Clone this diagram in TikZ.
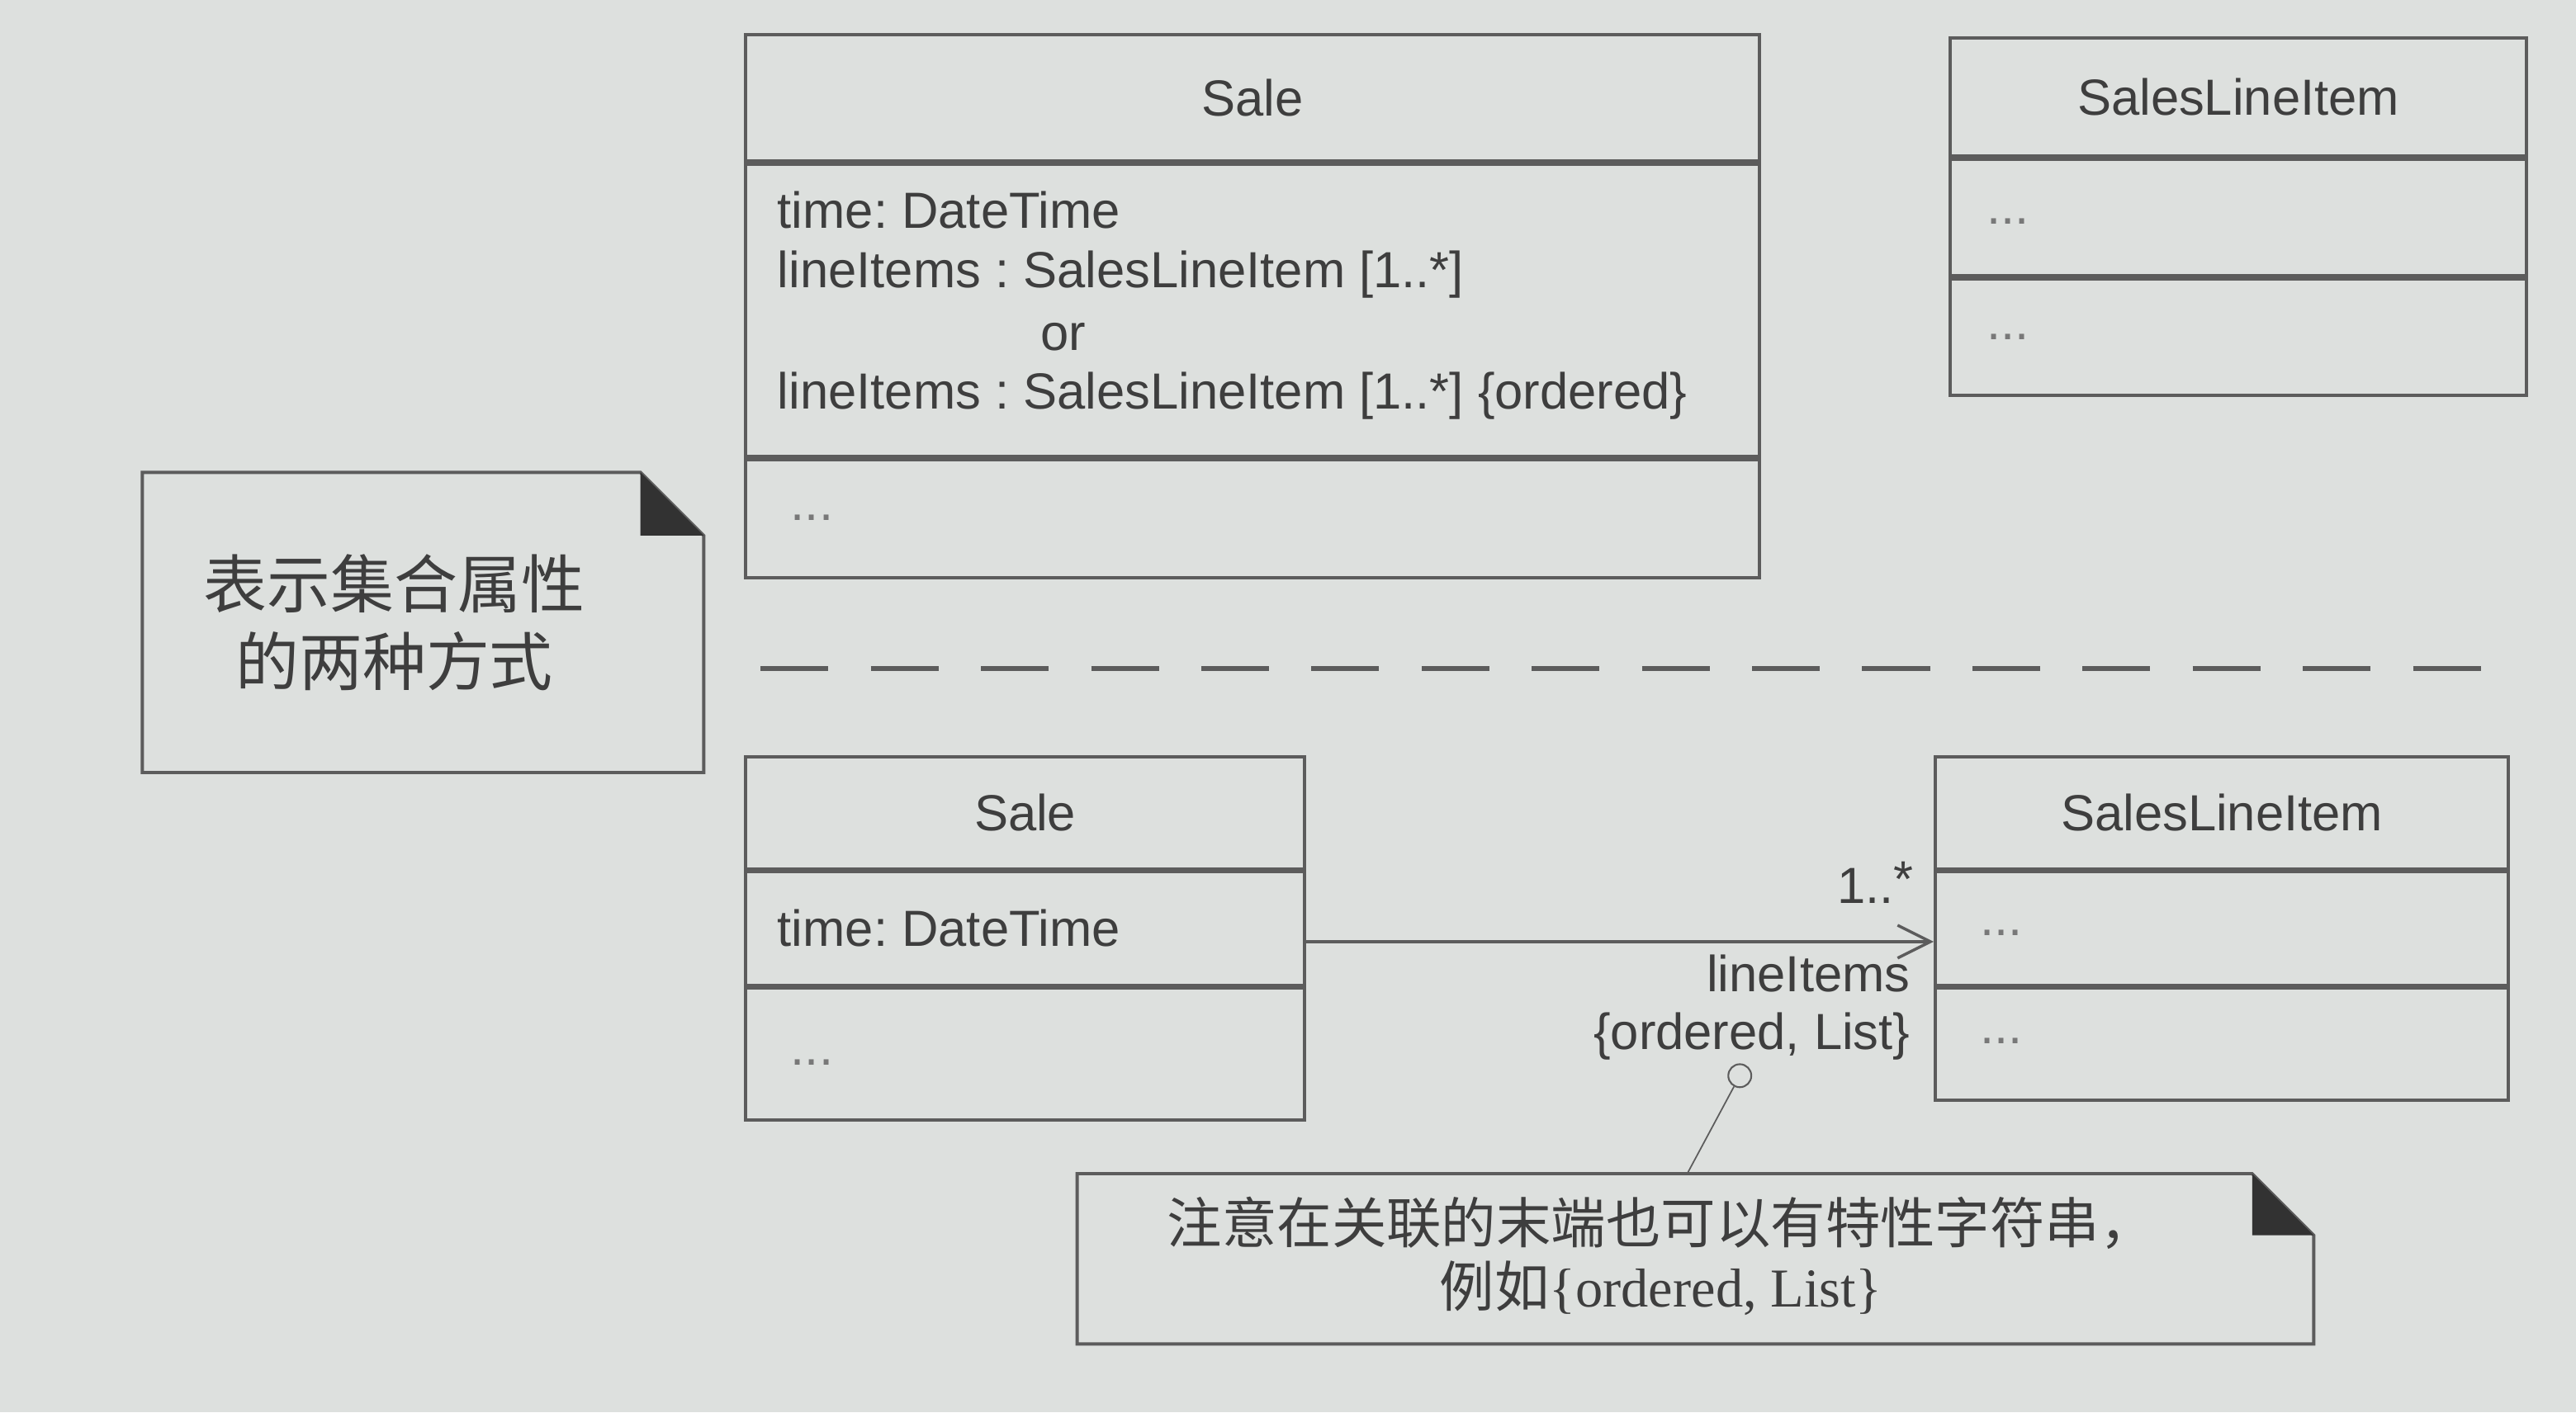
\documentclass[tikz,border=0pt]{standalone}
\usepackage{fontspec}
\setmainfont{Liberation Sans}
\newfontfamily\cjk{Noto Sans CJK SC}
\newfontfamily\serifen{Liberation Serif}
\usetikzlibrary{positioning,arrows.meta}
\definecolor{paper}{RGB}{221,224,222}
\definecolor{ink}{RGB}{62,62,62}
\definecolor{rule}{RGB}{92,92,92}
\frenchspacing

\begin{document}
\begin{tikzpicture}[
    every node/.style={text=ink, font=\fontsize{17.6}{20}\selectfont},
    part/.style={draw=rule, line width=1.1pt, inner sep=0pt},
    attr/.style={anchor=west, inner sep=0pt},
    dots/.style={anchor=west, inner sep=0pt, text=ink!70},
    notebox/.style={inner sep=0pt},
    notetext/.style={inner sep=0pt, align=center},
    assoc/.style={draw=rule, line width=1pt, -{Straight Barb[length=4mm,width=4mm]}},
    pinline/.style={draw=rule, line width=0.5pt}
]
    \fill[paper] (0,0) rectangle (31.36,-17.20);
    \useasboundingbox (0,0) rectangle (31.36,-17.20);

    % upper pair: attribute form
    \node[part, anchor=north west, minimum width=12.34cm, minimum height=1.54cm] (saleA) at (9.06,-0.40) {Sale};
    \node[part, below=0pt of saleA, minimum width=12.34cm, minimum height=3.56cm] (saleAattr) {};
    \node[part, below=0pt of saleAattr, minimum width=12.34cm, minimum height=1.44cm] (saleAops) {};
    \node[attr] (timeA) at (9.46,-2.56) {time: DateTime};
    \node[attr] (itemsA) at (9.46,-3.34) {lineItems : SalesLineItem [1..*]};
    \node (orA) at (12.94,-4.10) {or};
    \node[attr] (itemsB) at (9.46,-4.82) {lineItems : SalesLineItem [1..*] \{ordered\}};
    \node[dots] (dotsA) at (9.62,-6.30) {...};

    \node[part, anchor=north west, minimum width=7.02cm, minimum height=1.44cm] (sliA) at (23.72,-0.44) {SalesLineItem};
    \node[part, below=0pt of sliA, minimum width=7.02cm, minimum height=1.42cm] (sliAattr) {};
    \node[part, below=0pt of sliAattr, minimum width=7.02cm, minimum height=1.42cm] (sliAops) {};
    \node[dots] (dotsB) at (24.18,-2.70) {...};
    \node[dots] (dotsC) at (24.18,-4.10) {...};

    % note on the left
    \node[notebox, minimum width=6.82cm, minimum height=3.64cm] (noteL) at (5.15,-7.58) {};
    \node[notetext, font=\cjk\fontsize{22}{27}\selectfont] (noteLtext) at (4.80,-7.58) {表示集合属性\\的两种方式};
    \draw[rule, line width=1.1pt] (noteL.north west) -- ([xshift=-7.7mm]noteL.north east)
        -- ([yshift=-7.7mm]noteL.north east) -- (noteL.south east) -- (noteL.south west) -- cycle;
    \fill[ink!80!black] ([xshift=-7.7mm]noteL.north east) -- ([xshift=-7.7mm,yshift=-7.7mm]noteL.north east)
        -- ([yshift=-7.7mm]noteL.north east) -- cycle;

    % separator
    \coordinate (sepL) at (9.26,-8.14);
    \coordinate (sepR) at (30.20,-8.14);
    \draw[rule, line width=1.8pt, dash pattern=on 0.825cm off 0.516cm] (sepL) -- (sepR);

    % lower pair: association form
    \node[part, anchor=north west, minimum width=6.80cm, minimum height=1.36cm] (saleB) at (9.06,-9.20) {Sale};
    \node[part, below=0pt of saleB, minimum width=6.80cm, minimum height=1.38cm] (saleBattr) {};
    \node[part, below=0pt of saleBattr, minimum width=6.80cm, minimum height=1.60cm] (saleBops) {};
    \node[attr] (timeB) at (9.46,-11.30) {time: DateTime};
    \node[dots] (dotsD) at (9.62,-12.94) {...};

    \node[part, anchor=north west, minimum width=6.98cm, minimum height=1.36cm] (sliB) at (23.54,-9.20) {SalesLineItem};
    \node[part, below=0pt of sliB, minimum width=6.98cm, minimum height=1.38cm] (sliBattr) {};
    \node[part, below=0pt of sliBattr, minimum width=6.98cm, minimum height=1.36cm] (sliBops) {};
    \node[dots] (dotsE) at (24.10,-11.36) {...};
    \node[dots] (dotsF) at (24.10,-12.68) {...};

    \draw[assoc] ([yshift=-1.6mm]saleBattr.east) -- ([yshift=-1.6mm]sliBattr.west);
    \node[anchor=base east, inner sep=0pt] (mult) at (23.30,-11.00) {1..\raisebox{0.25ex}{*}};
    \node[anchor=north east, align=right, inner sep=0pt] (role) at (23.26,-11.62) {lineItems\\\{ordered, List\}};

    % note on the association end
    \node[draw=rule, line width=0.6pt, circle, minimum size=0.28cm, inner sep=0pt] (pin) at (21.18,-13.10) {};
    \node[notebox, minimum width=15.04cm, minimum height=2.06cm] (noteB) at (20.64,-15.33) {};
    \node[notetext, font=\fontsize{19}{22}\selectfont] (noteBtext) at (20.22,-15.30)
        {{\cjk 注意在关联的末端也可以有特性字符串，}\\{\cjk 例如}{\serifen\{ordered, List\}}};
    \draw[rule, line width=1.1pt] (noteB.north west) -- ([xshift=-7.5mm]noteB.north east)
        -- ([yshift=-7.5mm]noteB.north east) -- (noteB.south east) -- (noteB.south west) -- cycle;
    \fill[ink!80!black] ([xshift=-7.5mm]noteB.north east) -- ([xshift=-7.5mm,yshift=-7.5mm]noteB.north east)
        -- ([yshift=-7.5mm]noteB.north east) -- cycle;
    \draw[pinline] (pin) -- ([xshift=-1mm]noteB.north);
\end{tikzpicture}
\end{document}
